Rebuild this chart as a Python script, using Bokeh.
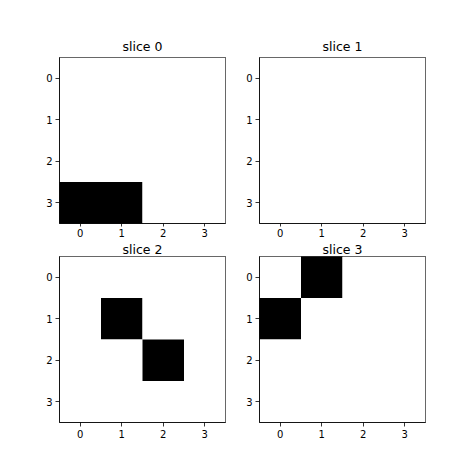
from bokeh.plotting import figure
from bokeh.layouts import gridplot
from bokeh.models import Range1d, FixedTicker, ColumnDataSource, LinearColorMapper
from bokeh.embed import file_html
from bokeh.resources import INLINE

titles = ["slice 0", "slice 1", "slice 2", "slice 3"]
tick_values = [0, 1, 2, 3]
slice_0 = [[0, 0, 0, 0],
           [0, 0, 0, 0],
           [0, 0, 0, 0],
           [1, 1, 0, 0]]
slice_1 = [[0, 0, 0, 0],
           [0, 0, 0, 0],
           [0, 0, 0, 0],
           [0, 0, 0, 0]]
slice_2 = [[0, 0, 0, 0],
           [0, 1, 0, 0],
           [0, 0, 1, 0],
           [0, 0, 0, 0]]
slice_3 = [[0, 1, 0, 0],
           [1, 0, 0, 0],
           [0, 0, 0, 0],
           [0, 0, 0, 0]]
slices = [slice_0, slice_1, slice_2, slice_3]

FONT = "DejaVu Sans"
mapper = LinearColorMapper(palette=["#ffffff", "#000000"], low=0, high=1)

borders = [
    dict(min_border_left=59, min_border_right=4, min_border_top=57, min_border_bottom=0),
    dict(min_border_left=30, min_border_right=10, min_border_top=57, min_border_bottom=0),
    dict(min_border_left=59, min_border_right=4, min_border_top=0, min_border_bottom=30),
    dict(min_border_left=30, min_border_right=10, min_border_top=0, min_border_bottom=30),
]

figs = []
for k in range(4):
    data = slices[k]
    xs, ys, vs = [], [], []
    for r, row in enumerate(data):
        for c, v in enumerate(row):
            xs.append(c)
            ys.append(r)
            vs.append(v)
    src = ColumnDataSource(dict(x=xs, y=ys, v=vs))
    p = figure(frame_width=166, frame_height=166, output_backend="svg",
               toolbar_location=None, title=titles[k],
               x_range=Range1d(-0.5, 3.5), y_range=Range1d(3.5, -0.5),
               **borders[k])
    p.rect(x="x", y="y", width=1, height=1, source=src,
           fill_color={"field": "v", "transform": mapper}, line_color=None)
    p.grid.visible = False
    p.outline_line_color = "black"
    p.outline_line_width = 0.8
    p.outline_line_alpha = 1
    p.background_fill_color = "white"
    p.border_fill_color = "white"
    p.title.text_font = FONT
    p.title.text_font_size = "12.5px"
    p.title.text_font_style = "normal"
    p.title.text_color = "black"
    p.title.align = "center"
    p.title.standoff = 7 if k < 2 else 0
    for ax in (p.xaxis[0], p.yaxis[0]):
        ax.ticker = FixedTicker(ticks=tick_values)
        ax.minor_tick_line_color = None
        ax.major_tick_out = 4
        ax.major_tick_in = 0
        ax.major_tick_line_width = 0.8
        ax.major_tick_line_color = "black"
        ax.axis_line_width = 0.8
        ax.axis_line_color = "black"
        ax.major_label_text_font = FONT
        ax.major_label_text_font_size = "10px"
        ax.major_label_text_color = "black"
        ax.major_label_standoff = 3
    if k < 2:
        p.xaxis[0].major_tick_out = 3
        p.xaxis[0].major_label_standoff = 2
    p.yaxis[0].major_label_orientation = "horizontal"
    figs.append(p)

grid = gridplot([[figs[0], figs[1]], [figs[2], figs[3]]], toolbar_location=None)
open("out.html", "w").write(file_html(grid, INLINE))
